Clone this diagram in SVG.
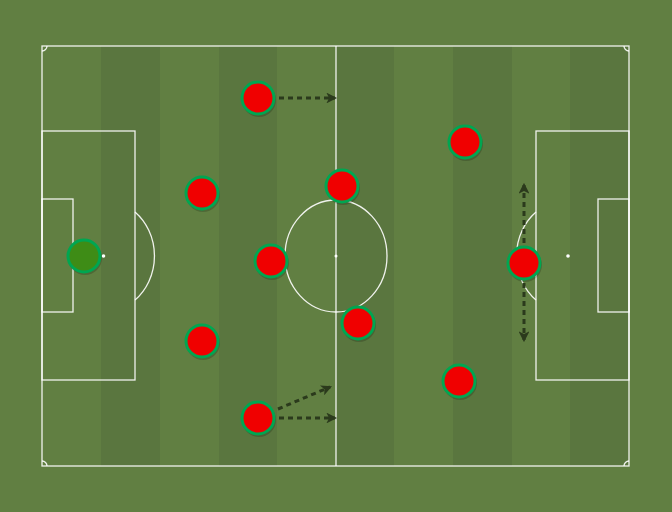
<svg xmlns="http://www.w3.org/2000/svg" width="672" height="512" viewBox="0 0 672 512">
<defs>
<style>
.line{fill:none;stroke:#ffffff;stroke-width:1.3;stroke-opacity:0.9}
.dark{fill:#5a763f}
.player{fill:#f00000;stroke:#00a651;stroke-width:3}
.gk{fill:#3e8c16;stroke:#00a651;stroke-width:3}
.shadow{fill:#000;opacity:0.18}
.run{fill:none;stroke:#2b3a1c;stroke-width:3;stroke-dasharray:5 4;marker-end:url(#ah)}
</style>
<marker id="ah" viewBox="0 0 10 10" refX="8" refY="5" markerWidth="3.6" markerHeight="3.6" orient="auto" markerUnits="strokeWidth">
<path d="M0,0 L10,5 L0,10 L2.5,5 z" fill="#2b3a1c"/>
</marker>
</defs>
<rect width="672" height="512" fill="#617f42"/>
<g id="pitch">
<rect class="dark" x="101" y="46" width="59" height="420"/>
<rect class="dark" x="219" y="46" width="58" height="420"/>
<rect class="dark" x="336" y="46" width="58" height="420"/>
<rect class="dark" x="453" y="46" width="59" height="420"/>
<rect class="dark" x="570" y="46" width="59" height="420"/>
<rect class="line" x="42" y="46" width="587" height="420"/>
<line class="line" x1="336" y1="46" x2="336" y2="466"/>
<ellipse class="line" cx="336" cy="256" rx="51" ry="56"/>
<circle cx="336" cy="256" r="1.5" fill="#fff"/>
<rect class="line" x="42" y="131" width="93" height="249"/>
<rect class="line" x="42" y="199" width="31" height="113"/>
<circle cx="103.5" cy="256" r="1.8" fill="#fff"/>
<path class="line" d="M135,212 A51,56 0 0 1 135,300"/>
<rect class="line" x="536" y="131" width="93" height="249"/>
<rect class="line" x="598" y="199" width="31" height="113"/>
<circle cx="568" cy="256" r="1.8" fill="#fff"/>
<path class="line" d="M536,212 A51,56 0 0 0 536,300"/>
<path class="line" d="M42,51 A5,5 0 0 0 47,46"/>
<path class="line" d="M624,46 A5,5 0 0 0 629,51"/>
<path class="line" d="M42,461 A5,5 0 0 1 47,466"/>
<path class="line" d="M624,466 A5,5 0 0 1 629,461"/>
</g>
<g id="connectors">
<line class="run" x1="279" y1="98" x2="335" y2="98"/>
<line class="run" x1="278" y1="409" x2="330" y2="387"/>
<line class="run" x1="279" y1="418" x2="335" y2="418"/>
<line class="run" x1="524" y1="243" x2="524" y2="185"/>
<line class="run" x1="524" y1="283" x2="524" y2="340"/>
</g>
<g id="gk"><circle class="shadow" cx="85" cy="258" r="17"/><circle class="gk" cx="84" cy="256" r="16"/></g>
<g id="p1"><circle class="shadow" cx="259" cy="100" r="17"/><circle class="player" cx="258" cy="98" r="16"/></g>
<g id="p2"><circle class="shadow" cx="466" cy="144" r="17"/><circle class="player" cx="465" cy="142" r="16"/></g>
<g id="p3"><circle class="shadow" cx="203" cy="195" r="17"/><circle class="player" cx="202" cy="193" r="16"/></g>
<g id="p4"><circle class="shadow" cx="343" cy="188" r="17"/><circle class="player" cx="342" cy="186" r="16"/></g>
<g id="p5"><circle class="shadow" cx="272" cy="263" r="17"/><circle class="player" cx="271" cy="261" r="16"/></g>
<g id="p6"><circle class="shadow" cx="525" cy="265" r="17"/><circle class="player" cx="524" cy="263" r="16"/></g>
<g id="p7"><circle class="shadow" cx="359" cy="325" r="17"/><circle class="player" cx="358" cy="323" r="16"/></g>
<g id="p8"><circle class="shadow" cx="203" cy="343" r="17"/><circle class="player" cx="202" cy="341" r="16"/></g>
<g id="p9"><circle class="shadow" cx="460" cy="383" r="17"/><circle class="player" cx="459" cy="381" r="16"/></g>
<g id="p10"><circle class="shadow" cx="259" cy="420" r="17"/><circle class="player" cx="258" cy="418" r="16"/></g>
</svg>
